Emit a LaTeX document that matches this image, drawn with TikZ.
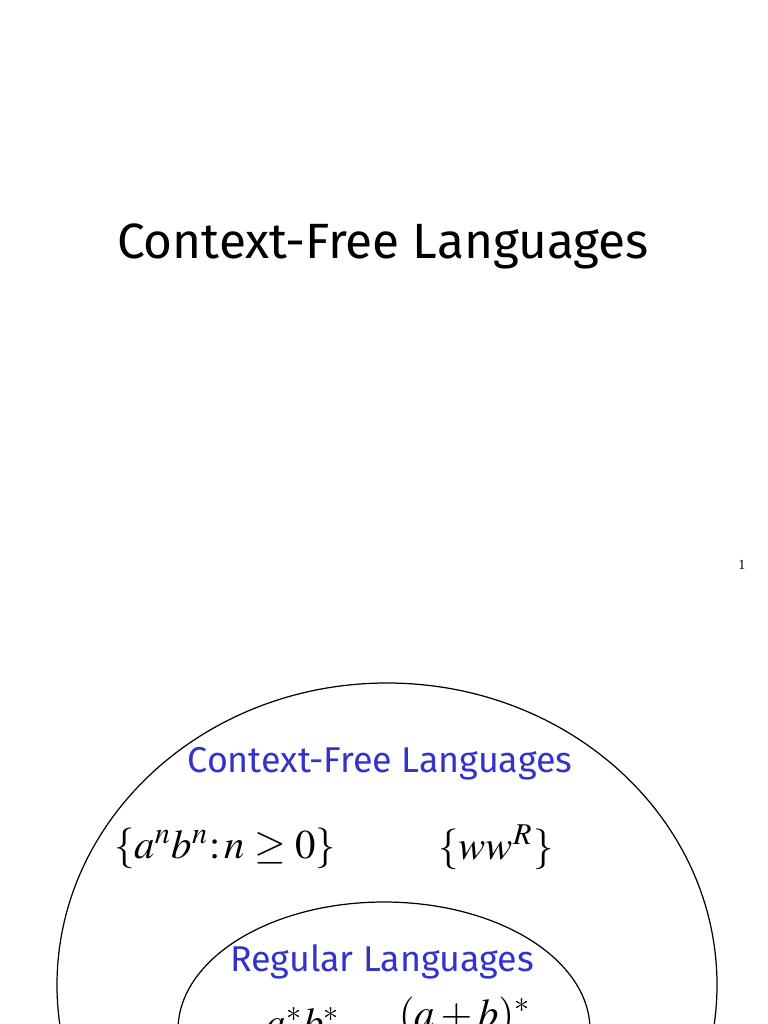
\documentclass[tikz,border=0pt]{standalone}
\usepackage{mathptmx}
\usepackage[no-math]{fontspec}
\setmainfont{Liberation Serif}
\setsansfont{Fira Sans}
\definecolor{langblue}{RGB}{51,51,204}
\tikzstyle{slidetitle} = [font=\sffamily\fontsize{14.1}{17}\selectfont,inner sep=0pt]
\tikzstyle{pagenum} = [font=\rmfamily\fontsize{4}{5}\selectfont,inner sep=0pt]
\tikzstyle{langlabel} = [font=\sffamily\fontsize{10.2}{12}\selectfont,text=langblue,inner sep=0pt]
\tikzstyle{langset} = [font=\fontsize{11.6}{14}\selectfont,inner sep=0pt]

\begin{document}
\begin{tikzpicture}[x=0.01cm,y=-0.01cm]
	\useasboundingbox (0,0) rectangle (768,1024);
	\clip (0,0) rectangle (768,1024);
	
	% first slide
	\node[slidetitle] (title) at (383,246) {Context-Free Languages};
	\node[pagenum] (pg) at (742,565) {1};
	
	% second slide
	\draw[line width=0.35pt] (387,985) ellipse (330 and 302); \node[langlabel] (cfl) at (380,764) {Context-Free Languages};
	\draw[line width=0.35pt] (384,1030) ellipse (206 and 128); \node[langlabel] (reg) at (382,962) {Regular Languages};
	
	\node[langset] (anbn) at (225,848) {$\{a^nb^n{:}\,n\geq 0\}$};
	\node[langset] (wwr) at (496,847) {$\{ww^R\}$};
	\node[langset] (astar) at (303,1022) {$a^*b^*$};
	\node[langset] (abstar) at (465,1017) {$(a+b)^*$};
\end{tikzpicture}
\end{document}
